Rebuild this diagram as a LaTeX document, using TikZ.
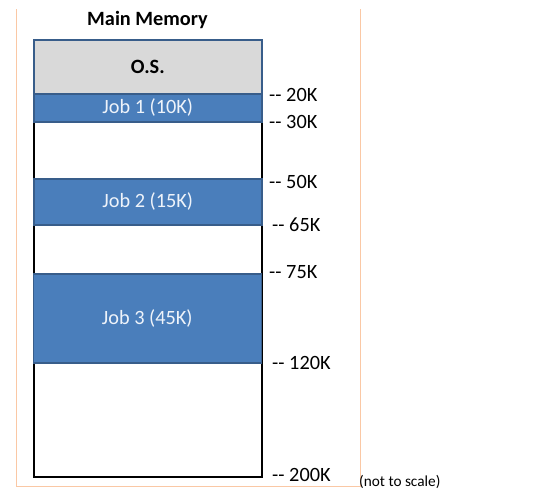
\documentclass[tikz,border=0pt]{standalone}
\usepackage{fontspec}
\setmainfont{Carlito}
\definecolor{jobblue}{RGB}{74,126,187}
\definecolor{jobedge}{RGB}{56,93,138}
\definecolor{osgray}{RGB}{217,217,217}
\definecolor{framecol}{RGB}{250,200,165}
\definecolor{jobtext}{RGB}{238,243,250}
\begin{document}
\begin{tikzpicture}[x=1pt,y=-1pt,
  region/.style={draw=jobedge,line width=1.5pt,minimum width=228pt,inner sep=0pt,anchor=north west},
  job/.style={region,fill=jobblue,text=jobtext,font=\fontsize{20.3}{23}\selectfont},
  addrlabel/.style={anchor=west,inner sep=0pt,font=\fontsize{20.3}{23}\selectfont}]
\useasboundingbox (0,0) rectangle (549,501);
% outer frame
\draw[framecol,line width=1pt] (16,9) -- (16,486) -- (360,486) -- (360,9);
% memory outline
\node[draw=black,line width=1.5pt,minimum width=228pt,minimum height=355pt,inner sep=0pt,anchor=north west] (mem) at (33,121) {};
\node[region,fill=osgray,minimum height=54pt,font=\bfseries\fontsize{20.3}{23}\selectfont] (os) at (33,39) {O.S.};
\node[job,minimum height=28pt] (job1) at (33,93) {Job 1 (10K)};
\node[job,minimum height=46pt] (job2) at (33,178) {Job 2 (15K)};
\node[job,minimum height=89pt] (job3) at (32.5,273) {Job 3 (45K)};
\node[font=\bfseries\fontsize{20.3}{23}\selectfont,inner sep=0pt] (title) at (147.5,20) {Main Memory};
% address marks
\node[addrlabel] (m20) at (269,95) {-{}- 20K};
\node[addrlabel] (m30) at (269,122) {-{}- 30K};
\node[addrlabel] (m50) at (269,182) {-{}- 50K};
\node[addrlabel] (m65) at (272,225) {-{}- 65K};
\node[addrlabel] (m75) at (269,272) {-{}- 75K};
\node[addrlabel] (m120) at (272,363) {-{}- 120K};
\node[addrlabel] (m200) at (272,475) {-{}- 200K};
\node[anchor=west,inner sep=0pt,font=\fontsize{15.3}{18}\selectfont] (nts) at (359,482) {(not to scale)};
\end{tikzpicture}
\end{document}
